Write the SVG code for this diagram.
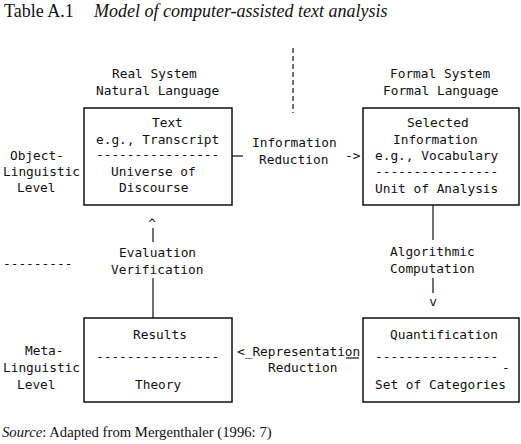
<svg xmlns="http://www.w3.org/2000/svg" width="521" height="444" viewBox="0 0 521 444">
<style>
.m{font-family:"DejaVu Sans Mono","Liberation Mono",monospace;font-size:12.8px;fill:#111}
.s{font-family:"Liberation Serif","Times New Roman",serif;fill:#111}
.box{fill:none;stroke:#111;stroke-width:1.5}
.ln{stroke:#111;stroke-width:1.2;fill:none}
</style>
<rect width="521" height="444" fill="#fff"/>
<g id="title">
<text class="s" x="4" y="17" font-size="18">Table A.1</text>
<text class="s" x="94" y="17" font-size="18" font-style="italic">Model of computer-assisted text analysis</text>
</g>
<g id="labels">
<text class="m" x="112" y="78">Real System</text>
<text class="m" x="96" y="95">Natural Language</text>
<text class="m" x="390" y="78">Formal System</text>
<text class="m" x="383" y="95">Formal Language</text>
<text class="m" x="10" y="160">Object-</text>
<text class="m" x="3" y="176">Linguistic</text>
<text class="m" x="17" y="192">Level</text>
<text class="m" x="25" y="355">Meta-</text>
<text class="m" x="3" y="372">Linguistic</text>
<text class="m" x="17" y="389">Level</text>
<text class="m" x="3" y="268">---------</text>
<line class="ln" x1="293" y1="48" x2="293" y2="113" stroke-dasharray="5 3"/>
</g>
<g id="real-system">
<rect class="box" x="84" y="108" width="148" height="97"/>
<text class="m" x="152" y="127">Text</text>
<text class="m" x="96" y="144">e.g., Transcript</text>
<text class="m" x="96" y="159">----------------</text>
<text class="m" x="111" y="176">Universe of</text>
<text class="m" x="119" y="192">Discourse</text>
</g>
<g id="formal-system">
<rect class="box" x="363" y="108" width="156" height="97"/>
<text class="m" x="407" y="127">Selected</text>
<text class="m" x="393" y="144">Information</text>
<text class="m" x="375" y="160">e.g., Vocabulary</text>
<text class="m" x="375" y="176">----------------</text>
<text class="m" x="375" y="193">Unit of Analysis</text>
</g>
<g id="results">
<rect class="box" x="84" y="318" width="148" height="84"/>
<text class="m" x="133" y="339">Results</text>
<text class="m" x="96" y="361">----------------</text>
<text class="m" x="135" y="389">Theory</text>
</g>
<g id="quantification">
<rect class="box" x="363" y="318" width="156" height="84"/>
<text class="m" x="390" y="339">Quantification</text>
<text class="m" x="375" y="361">----------------</text>
<text class="m" x="502" y="372">-</text>
<text class="m" x="375" y="389">Set of Categories</text>
</g>
<g id="connectors">
<line class="ln" x1="232" y1="156" x2="243" y2="156"/>
<text class="m" x="252" y="147">Information</text>
<text class="m" x="259" y="164">Reduction</text>
<text class="m" x="345" y="160">-&gt;</text>
<line class="ln" x1="433" y1="205" x2="433" y2="240"/>
<text class="m" x="390" y="256">Algorithmic</text>
<text class="m" x="390" y="273">Computation</text>
<line class="ln" x1="433" y1="278" x2="433" y2="293"/>
<text class="m" x="433" y="306" text-anchor="middle">v</text>
<text class="m" x="237" y="356">&lt;_Representation</text>
<line class="ln" x1="346" y1="358" x2="359" y2="358"/>
<text class="m" x="268" y="372">Reduction</text>
<line class="ln" x1="153" y1="278" x2="153" y2="318"/>
<text class="m" x="119" y="257">Evaluation</text>
<text class="m" x="111" y="274">Verification</text>
<line class="ln" x1="153" y1="228" x2="153" y2="242"/>
<text class="m" x="152" y="228" text-anchor="middle">^</text>
</g>
<g id="source">
<text class="s" x="2" y="437" font-size="14.7"><tspan font-style="italic">Source</tspan>: Adapted from Mergenthaler (1996: 7)</text>
</g>
</svg>
